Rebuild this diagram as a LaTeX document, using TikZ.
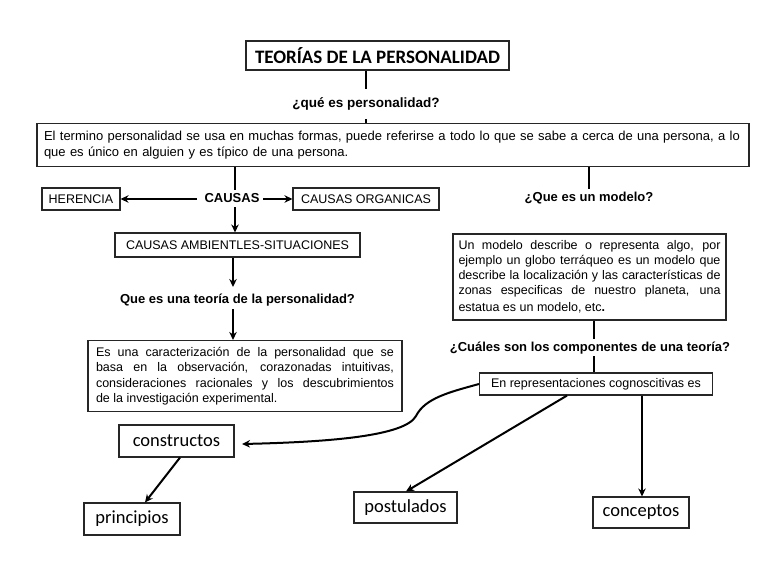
\documentclass[tikz,border=0pt]{standalone}
\usepackage{fontspec}
\setmainfont{Liberation Sans}
\newfontfamily\calfont{Carlito}
\usetikzlibrary{arrows.meta}
\begin{document}
\begin{tikzpicture}[x=1pt,y=-1pt,
  box/.style={draw=black!85, line width=1.1pt, inner sep=0pt},
  txt/.style={font=\fontsize{12.5}{15.5}\selectfont},
  qst/.style={font=\bfseries\fontsize{13}{15}\selectfont, inner sep=2pt},
  big/.style={box, font=\calfont\fontsize{18.5}{20}\selectfont},
  conn/.style={line width=2pt},
  arr/.style={conn,-{Stealth[length=8pt,width=7.5pt]}}]
\useasboundingbox[fill=white] (0,0) rectangle (768,576);

\node[box, minimum width=263pt, minimum height=29pt, font=\calfont\bfseries\fontsize{19}{22}\selectfont] (title) at (377.5,55.5) {TEORÍAS DE LA PERSONALIDAD};
\node[qst, font=\bfseries\fontsize{13.5}{15}\selectfont] (q1) at (366,104) {¿qué es personalidad?};
\node[box, minimum width=712pt, minimum height=43pt, text width=698pt, align=left, font=\fontsize{13}{16}\selectfont] (def) at (393,145) {El termino personalidad se usa en muchas formas, puede referirse a todo lo que se sabe a cerca de una persona, a lo\\que es único en alguien y es típico de una persona.};
\node[qst] (causas) at (232,198) {CAUSAS};
\node[box, txt, minimum width=78pt, minimum height=22pt] (her) at (81,199) {HERENCIA};
\node[box, txt, minimum width=146pt, minimum height=22pt] (org) at (366,199) {CAUSAS ORGANICAS};
\node[box, txt, minimum width=245pt, minimum height=24pt] (amb) at (237.5,245) {CAUSAS AMBIENTLES-SITUACIONES};
\node[qst] (q2) at (237.5,300) {Que es una teoría de la personalidad?};
\node[box, txt, minimum width=314pt, minimum height=71pt, text width=298pt, align=justify] (teo) at (245,376) {Es una caracterización de la personalidad que se\linebreak basa en la observación, corazonadas intuitivas,\linebreak consideraciones racionales y los descubrimientos\linebreak de la investigación experimental.};
\node[qst] (q3) at (589,198) {¿Que es un modelo?};
\node[box, minimum width=273pt, minimum height=86pt, text width=262pt, align=justify, font=\fontsize{12.5}{15}\selectfont] (mod) at (589.5,277) {Un modelo describe o representa algo, por\linebreak ejemplo un globo terráqueo es un modelo que\linebreak describe la localización y las características de\linebreak zonas especificas de nuestro planeta, una\vspace{2pt}\linebreak estatua es un modelo, etc\textbf{.}};
\node[qst] (q4) at (590,348) {¿Cuáles son los componentes de una teoría?};
\node[box, txt, minimum width=233pt, minimum height=22pt] (rep) at (596,384) {En representaciones cognoscitivas es};
\node[big, minimum width=115pt, minimum height=32pt] (cons) at (176.5,441) {constructos};
\node[big, minimum width=96pt, minimum height=32pt] (prin) at (132,519) {principios};
\node[big, minimum width=103pt, minimum height=31pt] (post) at (405.5,507.5) {postulados};
\node[big, minimum width=96pt, minimum height=31pt] (conc) at (641,512.5) {conceptos};

\draw[conn] (title.south -| 366,0) -- (366,89);
\draw[conn] (366,119) -- (def.north -| 366,0);
\draw[conn] (def.south -| 235,0) -- (235,190);
\draw[conn] (def.south -| 589,0) -- (589,189);
\draw[arr] (197,199) -- (her.east);
\draw[arr] (263,199) -- (her.east -| org.west);
\draw[arr] (235,207) -- (amb.north -| 235,0);
\draw[arr] (amb.south -| 233,0) -- (233,287);
\draw[arr] (233,309) -- (teo.north -| 233,0);
\draw[conn] (mod.south -| 594,0) -- (594,339);
\draw[conn] (594,356) -- (rep.north -| 594,0);
\coordinate (ctip) at (242,444);
\draw[arr] (rep.west) .. controls (450,392) and (425,398) .. (416,416) .. controls (405,436) and (330,442) .. (ctip);
\draw[arr] (rep.south -| 567,0) -- (post.north -| 406,0);
\draw[arr] (rep.south -| 642,0) -- (conc.north -| 642,0);
\draw[arr] (cons.south -| 180,0) -- (prin.north -| 145,0);
\end{tikzpicture}
\end{document}
